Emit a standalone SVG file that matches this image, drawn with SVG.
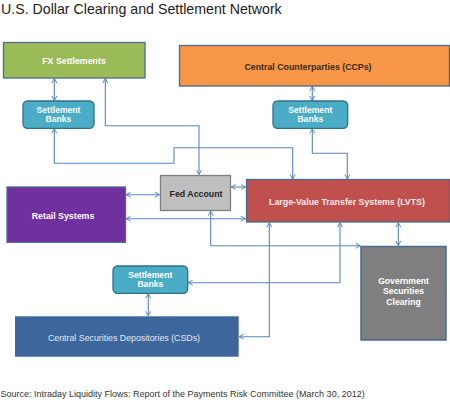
<svg xmlns="http://www.w3.org/2000/svg" width="450" height="408" viewBox="0 0 450 408">
<defs>
<style>
.t{font-family:"Liberation Sans",Arial,sans-serif}
.lb{font-family:"Liberation Sans",Arial,sans-serif;font-weight:bold;font-size:8.8px;text-anchor:middle;dominant-baseline:central}
.sb{font-family:"Liberation Sans",Arial,sans-serif;font-weight:bold;font-size:8.6px;text-anchor:middle;fill:#fff}
.c{fill:none;stroke:#5B85C0;stroke-width:1.1;marker-start:url(#ah);marker-end:url(#ah)}
</style>
<marker id="ah" viewBox="0 0 6 6" refX="5.5" refY="3" markerWidth="6" markerHeight="6" markerUnits="userSpaceOnUse" orient="auto-start-reverse">
<path d="M1,0.5 L5.5,3 L1,5.5" fill="none" stroke="#5B85C0" stroke-width="1"/>
</marker>
</defs>
<rect width="450" height="408" fill="#fff"/>
<text class="t" x="1" y="14" font-size="14.2" fill="#222">U.S. Dollar Clearing and Settlement Network</text>

<g id="connectors">
<path class="c" d="M54.3,78.5 V100.5"/>
<path class="c" d="M199,174.5 V125.7 H105.3 V78.5"/>
<path class="c" d="M54.3,128.8 V163.3 H174 V147.7 H292.7 V179"/>
<path class="c" d="M312.3,86.3 V100.5"/>
<path class="c" d="M312.3,128.8 V153.3 H347.3 V179"/>
<path class="c" d="M126.2,194.7 H159.5"/>
<path class="c" d="M231.2,187 H245.5"/>
<path class="c" d="M126.2,218.7 H245.5"/>
<path class="c" d="M210.7,211.2 V245.7 H360.2"/>
<path class="c" d="M398.3,222.8 V245.5"/>
<path class="c" d="M269.3,222.8 V336.7 H239.2"/>
<path class="c" d="M340,222.8 V282.7 H188.2"/>
<path class="c" d="M148.3,293.8 V315.8"/>
</g>

<g id="fx">
<rect x="3.5" y="42.5" width="141.5" height="35.5" fill="#9BBB59" stroke="#4A6A8E" stroke-width="1.3"/>
<text class="lb" x="74" y="60.5" fill="#fff">FX Settlements</text>
</g>
<g id="ccp">
<rect x="179.5" y="45.5" width="270" height="40.5" fill="#F79646" stroke="#4A6A8E" stroke-width="1.3"/>
<text class="lb" x="308" y="66.5" fill="#3a2a1a">Central Counterparties (CCPs)</text>
</g>
<g id="sb-left">
<rect x="23" y="101" width="71" height="27.3" rx="4.5" fill="#4BACC6" stroke="#2F6F8C" stroke-width="1.3"/>
<text class="sb" x="58.5" y="113.3">Settlement</text>
<text class="sb" x="58.5" y="122.3">Banks</text>
</g>
<g id="sb-right">
<rect x="273" y="101" width="74.7" height="27.3" rx="4.5" fill="#4BACC6" stroke="#2F6F8C" stroke-width="1.3"/>
<text class="sb" x="310.3" y="113.3">Settlement</text>
<text class="sb" x="310.3" y="122.3">Banks</text>
</g>
<g id="fed">
<rect x="160.5" y="175.5" width="70" height="35" fill="#BFBFBF" stroke="#7F7F7F" stroke-width="1.3"/>
<text class="lb" x="196" y="194" fill="#262626">Fed Account</text>
</g>
<g id="lvts">
<rect x="246.5" y="179.5" width="203" height="42.5" fill="#C0504D" stroke="#4A6A8E" stroke-width="1.3"/>
<text class="lb" x="347" y="202" fill="#F7ECEC">Large-Value Transfer Systems (LVTS)</text>
</g>
<g id="retail">
<rect x="7" y="187" width="118.5" height="55.3" fill="#7030A0" stroke="#4A6A8E" stroke-width="1.3"/>
<text class="lb" x="63" y="215.7" fill="#fff">Retail Systems</text>
</g>
<g id="gov">
<rect x="361" y="246.5" width="85" height="93.5" fill="#7F7F7F" stroke="#4A6A8E" stroke-width="1.5"/>
<text class="sb" x="403.5" y="283.8">Government</text>
<text class="sb" x="403.5" y="294.4">Securities</text>
<text class="sb" x="403.5" y="304.8">Clearing</text>
</g>
<g id="sb-bottom">
<rect x="113" y="266" width="74.7" height="27.3" rx="4.5" fill="#4BACC6" stroke="#2F6F8C" stroke-width="1.3"/>
<text class="sb" x="150.3" y="278.3">Settlement</text>
<text class="sb" x="150.3" y="287.3">Banks</text>
</g>
<g id="csd">
<rect x="15" y="316.3" width="223.7" height="40.4" fill="#3D679C"/>
<text class="t" x="124" y="337.7" font-size="8.8" text-anchor="middle" dominant-baseline="central" fill="#E2E8F2">Central Securities Depositories (CSDs)</text>
</g>

<text class="t" x="0.5" y="397.3" font-size="9" fill="#333">Source: Intraday Liquidity Flows: Report of the Payments Risk Committee (March 30, 2012)</text>
</svg>
